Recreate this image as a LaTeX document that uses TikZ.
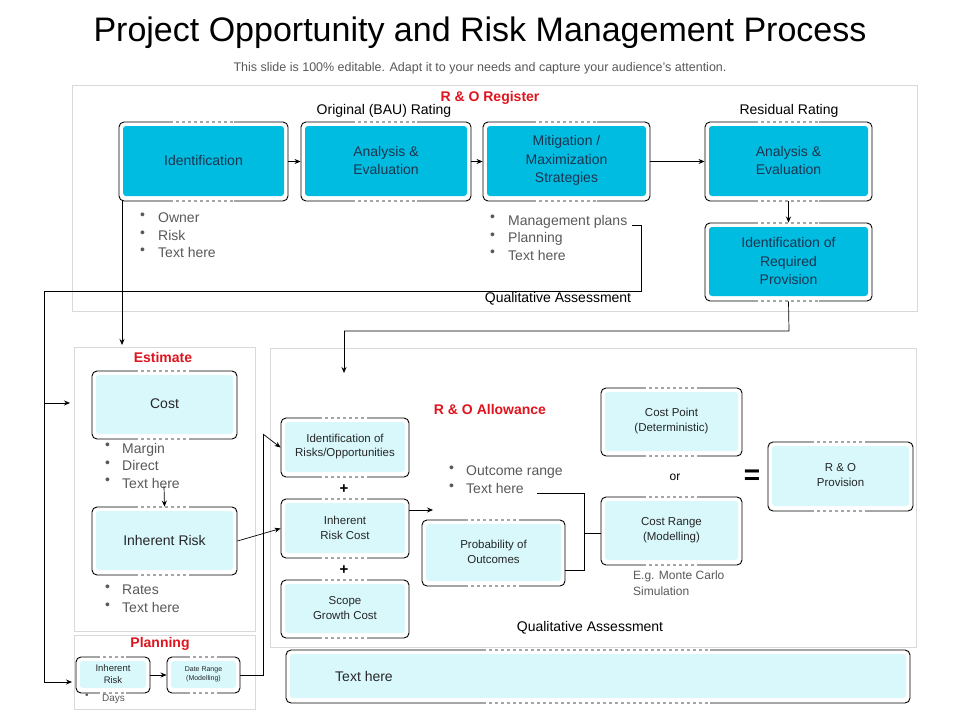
\documentclass[tikz,border=0pt]{standalone}
\usepackage{fontspec}
\setmainfont{Liberation Sans}
\usetikzlibrary{arrows.meta,calc}
\definecolor{dcyan}{HTML}{00BCE0}
\definecolor{lcyan}{HTML}{D8F8FC}
\definecolor{dtxt}{HTML}{1C3550}
\definecolor{gtxt}{HTML}{595959}
\definecolor{rtxt}{HTML}{E0141E}
\definecolor{frm}{HTML}{D9D9D9}
\tikzset{
 outerbox/.style={draw=black,line width=0.9pt,fill=white,rounded corners=5pt,inner sep=0pt},
 frame/.style={draw=frm,line width=0.8pt},
 conn/.style={draw=black,line width=0.7pt},
 arr/.style={conn,-{Stealth[length=6pt,width=5pt]}},
 redlab/.style={text=rtxt,font=\bfseries\fontsize{14}{16}\selectfont},
 blab/.style={text=black,font=\fontsize{14}{16}\selectfont},
 bul/.style={text=gtxt,font=\fontsize{14}{17.5}\selectfont,anchor=north west,align=left,inner sep=0pt},
}
% name, x1,y1,x2,y2, fill, textcolor, font size, text
\newcommand\mybx[9]{%
 \node[outerbox,minimum width={#4-#2},minimum height={#5-#3}] (#1) at ({(#2+#4)/2},{(#3+#5)/2}) {};
 \fill[#6,rounded corners=3pt] ({#2+4},{#3+4}) rectangle ({#4-4},{#5-5});
 \draw[white,line width=1.3pt,dash pattern=on 3pt off 3pt] ({#2+(#4-#2)*0.32},#3) -- ({#2+(#4-#2)*0.68},#3);
 \draw[white,line width=1.3pt,dash pattern=on 3pt off 3pt] ({#2+(#4-#2)*0.32},#5) -- ({#2+(#4-#2)*0.68},#5);
 \node[text=#7,align=center,font=\fontsize{#8}{1.3\dimexpr#8pt\relax}\selectfont] (#1-t) at ({(#2+#4)/2},{(#3+#5)/2-1}) {#9};
}
\begin{document}
\begin{tikzpicture}[x=1pt,y=-1pt]
\useasboundingbox[fill=white] (0,0) rectangle (960,720);
\node[font=\fontsize{34}{40}\selectfont] (title) at (480,33) {Project Opportunity and Risk Management Process};
\node[text=gtxt,font=\fontsize{12.5}{15}\selectfont] (sub) at (480,68) {This slide is 100\% editable. Adapt it to your needs and capture your audience's attention.};
% frames
\draw[frame] (72,85) rectangle (917,311);
\draw[frame] (74,347) rectangle (255,631);
\draw[frame] (74,635) rectangle (255,709);
\draw[frame] (270,348) rectangle (916,647);
\node[redlab] (reg) at (490,98) {R \& O Register};
\node[blab] (bau) at (384,111) {Original (BAU) Rating};
\node[blab] (res) at (789,111) {Residual Rating};
% top boxes
\mybx{ident}{119}{122}{288}{201}{dcyan}{dtxt}{14}{Identification}
\mybx{anal}{301}{122}{471}{201}{dcyan}{dtxt}{14}{Analysis \&\\Evaluation}
\mybx{miti}{483}{122}{650}{201}{dcyan}{dtxt}{14}{Mitigation /\\Maximization\\Strategies}
\mybx{ranal}{705}{122}{872}{201}{dcyan}{dtxt}{14}{Analysis \&\\Evaluation}
\mybx{prov}{705}{223}{872}{301}{dcyan}{dtxt}{14}{Identification of\\Required\\Provision}
\draw[arr] (ident.east) -- (anal.west);
\draw[arr] (anal.east) -- (miti.west);
\draw[arr] (miti.east) -- (ranal.west);
\draw[arr] (ranal.south) -- (prov.north);
\node[bul] (b1) at (140,213) {•\\•\\•};
\node[bul] (b1t) at (158,213) {Owner\\Risk\\Text here};
\node[bul] (b2) at (490,215) {•\\•\\•};
\node[bul] (b2t) at (508,215) {Management plans\\Planning\\Text here};
\node[blab] (qa1) at (558,299) {Qualitative Assessment};
% left feedback line
\coordinate (m1) at (632,225);
\coordinate (m2) at (641,225);
\coordinate (m3) at (641,291);
\coordinate (m4) at (44,291);
\coordinate (m5) at (44,682);
\coordinate (m6) at (72,682);
\coordinate (m7) at (44,403);
\coordinate (m8) at (70,403);
\draw[conn] (m1) -- (m2) -- (m3) -- (m4) -- (m5);
\draw[arr] (m5) -- (m6);
\draw[arr] (m7) -- (m8);
\coordinate (id1) at (122,201);
\coordinate (id2) at (122,345);
\draw[arr] (id1) -- (id2);
% provision down to allowance
\coordinate (p1) at (789,331);
\coordinate (p2) at (344,331);
\coordinate (p3) at (344,373);
\draw[conn] (prov.south) -- (p1) -- (p2);
\draw[arr] (p2) -- (p3);
% Estimate
\node[redlab] (est) at (163,357) {Estimate};
\mybx{cost}{92}{371}{237}{439}{lcyan}{black!85}{14}{Cost}
\mybx{ir}{92}{507}{237}{575}{lcyan}{black!85}{14}{Inherent Risk}
\node[bul] (b3) at (105,443) {•\\•\\•};
\node[bul] (b3t) at (122,443) {Margin\\Direct\\Text here};
\coordinate (c1) at (164,486);
\draw[arr] (c1) -- (ir.north);
\node[bul] (b4) at (105,585) {•\\•};
\node[bul] (b4t) at (122,585) {Rates\\Text here};
% Planning
\node[redlab] (plan) at (160,644) {Planning};
\mybx{pir}{76}{657}{150}{693}{lcyan}{black!85}{9.5}{Inherent\\Risk}
\mybx{pdr}{167}{657}{240}{693}{lcyan}{black!85}{7}{Date Range\\(Modelling)}
\draw[arr] (pir.east) -- (pdr.west);
\node[bul,font=\fontsize{10}{12}\selectfont] (b5) at (85,694) {•};
\node[bul,font=\fontsize{10}{12}\selectfont] (b5t) at (102,694) {Days};
% Allowance
\node[redlab] (allw) at (490,409) {R \& O Allowance};
\mybx{idro}{281}{418}{409}{477}{lcyan}{black!85}{11.5}{Identification of\\Risks/Opportunities}
\mybx{irc}{281}{499}{409}{558}{lcyan}{black!85}{11.5}{Inherent\\Risk Cost}
\mybx{sgc}{281}{580}{409}{638}{lcyan}{black!85}{11.5}{Scope\\Growth Cost}
\node[font=\bfseries\fontsize{15}{16}\selectfont] (plus1) at (344,489) {+};
\node[font=\bfseries\fontsize{15}{16}\selectfont] (plus2) at (344,570) {+};
\coordinate (d1) at (263,675);
\coordinate (d2) at (263,434);
\draw[conn] (pdr.east) -- (d1) -- (d2);
\draw[arr] (d2) -- (idro.west);
\draw[arr] (ir.east) -- (irc.west);
\coordinate (ir1) at (409,510);
\coordinate (ir2) at (433,510);
\draw[arr] (ir1) -- (ir2);
\node[bul] (b6) at (449,466) {•\\•};
\node[bul] (b6t) at (466,466) {Outcome range\\Text here};
\mybx{prob}{422}{520}{565}{586}{lcyan}{black!85}{11.5}{Probability of\\Outcomes}
\mybx{cpt}{601}{388}{742}{456}{lcyan}{black!85}{11.5}{Cost Point\\(Deterministic)}
\mybx{crng}{601}{497}{742}{565}{lcyan}{black!85}{11.5}{Cost Range\\(Modelling)}
\mybx{rop}{768}{442}{913}{511}{lcyan}{black!85}{11.5}{R \& O\\Provision}
\coordinate (o1) at (537,493);
\coordinate (o2) at (584,493);
\coordinate (o3) at (584,570);
\coordinate (o4) at (565,570);
\coordinate (o5) at (584,533);
\draw[conn] (o1) -- (o2) -- (o3) -- (o4);
\draw[conn] (o5) -- (crng.west |- o5);
\node[font=\fontsize{12}{14}\selectfont] (or) at (675,477) {or};
\node[font=\bfseries\fontsize{28}{30}\selectfont] (eq) at (752,477) {=};
\node[bul,font=\fontsize{12}{16}\selectfont] (mc) at (633,571) {E.g. Monte Carlo\\Simulation};
\node[blab] (qa2) at (590,628) {Qualitative Assessment};
\mybx{th}{286}{650}{910}{703}{lcyan}{black!85}{14}{}
\node[font=\fontsize{14}{16}\selectfont,text=black!85] (tht) at (364,676) {Text here};
\end{tikzpicture}
\end{document}
